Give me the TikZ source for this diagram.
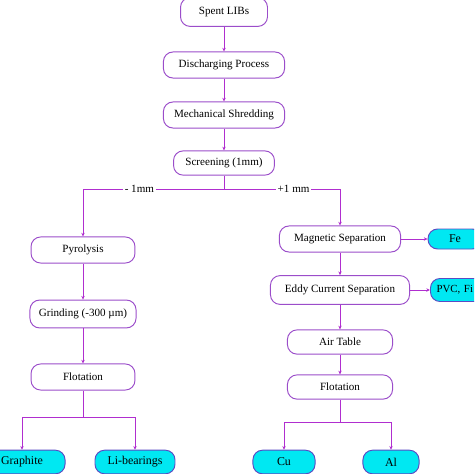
\documentclass[tikz,border=0pt]{standalone}
\usepackage{fontspec}
\setmainfont{Liberation Serif}
\usepackage{tikz}
\usetikzlibrary{arrows.meta, positioning, calc}
\usepackage{xcolor}
\definecolor{flowPurple}{HTML}{B02ECF}
\definecolor{edgePurple}{HTML}{9B4DCA}
\definecolor{prodCyan}{HTML}{00E8F2}
\definecolor{prodEdge}{HTML}{5B4BC4}

\begin{document}
\begin{tikzpicture}[
      x=0.033cm, y=-0.033cm,
      font=\fontsize{10.4}{12}\selectfont,
      stage/.style={draw=edgePurple, line width=0.9pt, rounded corners=9pt,
                    minimum width=#1, minimum height=0.86cm, fill=white, align=center},
      product/.style={draw=prodEdge, line width=0.9pt, rounded corners=9pt,
                      minimum width=#1, minimum height=0.78cm, fill=prodCyan,
                      align=center, font=\fontsize{11.2}{13}\selectfont},
      flow/.style={draw=flowPurple, line width=0.7pt, -{Stealth[length=3.5pt, width=3.2pt]}},
      link/.style={draw=flowPurple, line width=0.7pt},
      cut/.style={fill=white, inner sep=1.5pt}
    ]
    \useasboundingbox (0,0) rectangle (474,474);
    \clip (0,0) rectangle (474,474);

    % main line
    \node[stage=2.87cm, minimum height=0.95cm] (spent) at (224,12) {Spent LIBs};
    \node[stage=4.0cm]  (disch) at (224,65)  {Discharging Process};
    \node[stage=4.0cm]  (shred) at (224,115) {Mechanical Shredding};
    \node[stage=3.33cm, minimum height=0.8cm] (screen) at (224,163) {Screening (1mm)};

    % fine fraction
    \node[stage=3.43cm] (pyro)  at (83,250) {Pyrolysis};
    \node[stage=3.5cm, minimum height=0.92cm] (grind) at (83,314) {Grinding (-300 \textmu m)};
    \node[stage=3.43cm] (flotL) at (83,377) {Flotation};

    % coarse fraction
    \node[stage=4.0cm]  (magsep) at (340,239) {Magnetic Separation};
    \node[stage=4.59cm, minimum height=0.95cm] (eddy) at (340,290) {Eddy Current Separation};
    \node[stage=3.47cm, minimum height=0.8cm] (air)   at (340,342) {Air Table};
    \node[stage=3.47cm, minimum height=0.8cm] (flotR) at (340,387) {Flotation};

    % products
    \node[product=1.78cm, minimum height=0.66cm] (fe) at (455,239) {Fe};
    \node[product=3.3cm, minimum height=0.76cm, text width=2.9cm, align=left,
          inner xsep=5pt, anchor=west, font=\fontsize{10.2}{12}\selectfont]
          (pvc) at (430,290) {PVC, Fi};
    \node[product=2.84cm] (graph) at (22,462)  {Graphite};
    \node[product=2.64cm] (libear) at (135,462) {Li-bearings};
    \node[product=2.05cm] (cu) at (284,462) {Cu};
    \node[product=1.85cm] (al) at (391,462) {Al};

    \coordinate (split) at (224,189);
    \coordinate (forkL) at (83,417);
    \coordinate (forkR) at (340,422);

    \draw[flow] (spent) -- (disch);
    \draw[flow] (disch) -- (shred);
    \draw[flow] (shred) -- (screen);
    \draw[link] (screen) -- (split);
    \draw[flow] (split) -- node[cut, pos=0.6]{- 1mm} (split -| pyro) -- (pyro);
    \draw[flow] (split) -- node[cut, pos=0.6]{+1 mm} (split -| magsep) -- (magsep);

    \draw[flow] (pyro) -- (grind);
    \draw[flow] (grind) -- (flotL);
    \draw[link] (flotL) -- (forkL);
    \draw[flow] (forkL) -| (graph);
    \draw[flow] (forkL) -| (libear);

    \draw[flow] (magsep) -- (eddy);
    \draw[flow] (eddy) -- (air);
    \draw[flow] (air) -- (flotR);
    \draw[flow] (magsep) -- (fe);
    \draw[flow] (eddy) -- (pvc);
    \draw[link] (flotR) -- (forkR);
    \draw[flow] (forkR) -| (cu);
    \draw[flow] (forkR) -| (al);
  \end{tikzpicture}
\end{document}
